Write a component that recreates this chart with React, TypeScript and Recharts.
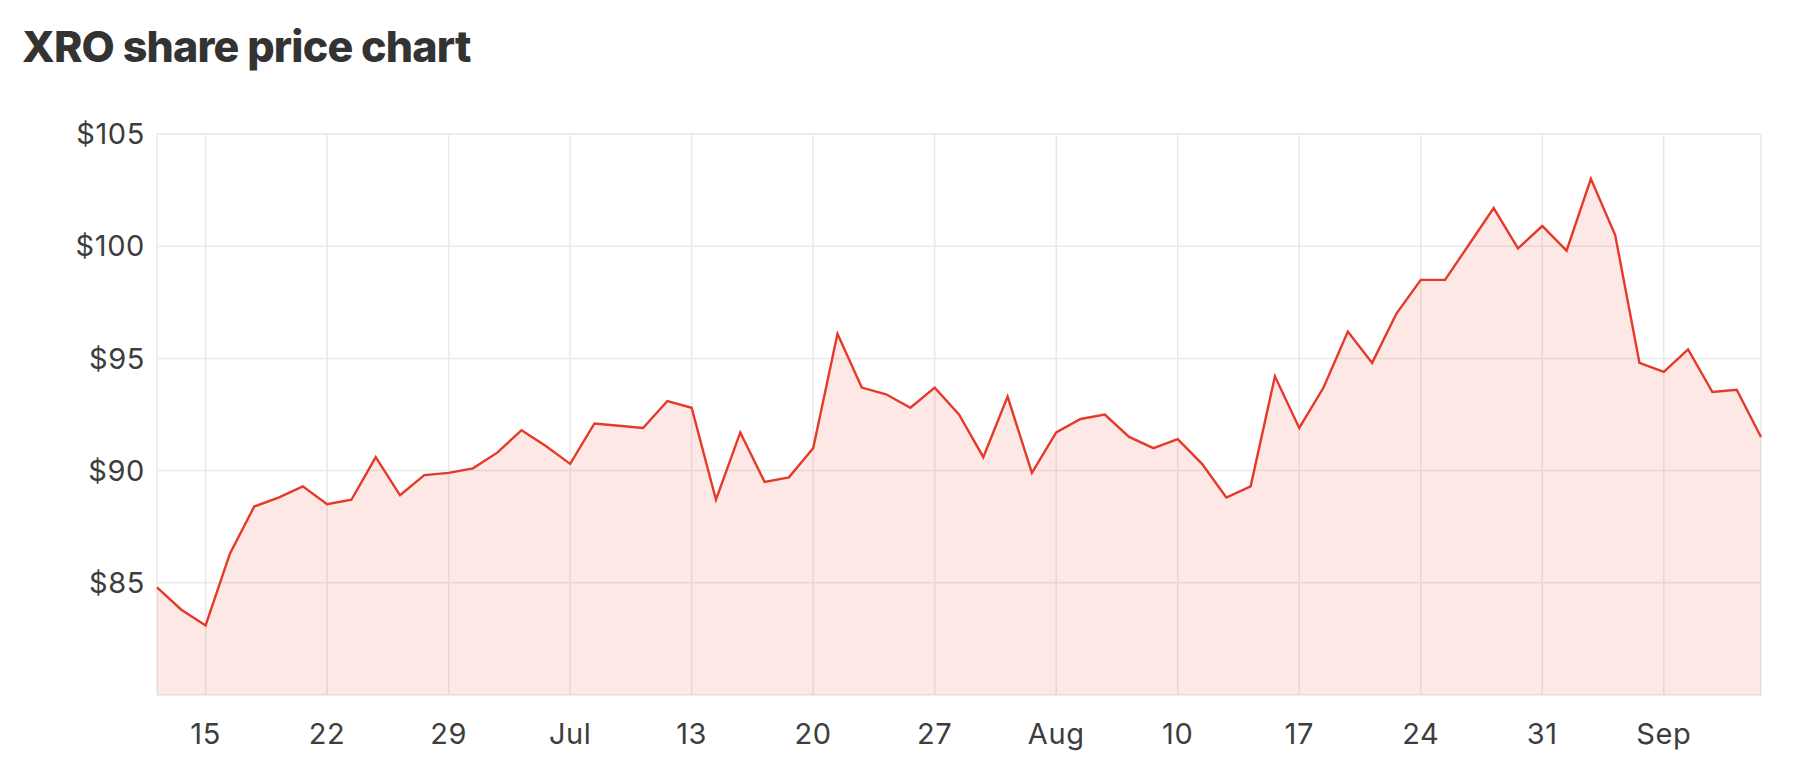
import { AreaChart, Area, XAxis, YAxis, CartesianGrid } from "recharts";

// ASX trading days, 11 Jun – 11 Sep 2020
const dates = [
  "2020-06-11", "2020-06-12",
  "2020-06-15", "2020-06-16", "2020-06-17", "2020-06-18", "2020-06-19",
  "2020-06-22", "2020-06-23", "2020-06-24", "2020-06-25", "2020-06-26",
  "2020-06-29", "2020-06-30", "2020-07-01", "2020-07-02", "2020-07-03",
  "2020-07-06", "2020-07-07", "2020-07-08", "2020-07-09", "2020-07-10",
  "2020-07-13", "2020-07-14", "2020-07-15", "2020-07-16", "2020-07-17",
  "2020-07-20", "2020-07-21", "2020-07-22", "2020-07-23", "2020-07-24",
  "2020-07-27", "2020-07-28", "2020-07-29", "2020-07-30", "2020-07-31",
  "2020-08-03", "2020-08-04", "2020-08-05", "2020-08-06", "2020-08-07",
  "2020-08-10", "2020-08-11", "2020-08-12", "2020-08-13", "2020-08-14",
  "2020-08-17", "2020-08-18", "2020-08-19", "2020-08-20", "2020-08-21",
  "2020-08-24", "2020-08-25", "2020-08-26", "2020-08-27", "2020-08-28",
  "2020-08-31", "2020-09-01", "2020-09-02", "2020-09-03", "2020-09-04",
  "2020-09-07", "2020-09-08", "2020-09-09", "2020-09-10", "2020-09-11",
];

const prices = [
  84.8, 83.8,
  83.1, 86.3, 88.4, 88.8, 89.3,
  88.5, 88.7, 90.6, 88.9, 89.8,
  89.9, 90.1, 90.8, 91.8, 91.1,
  90.3, 92.1, 92.0, 91.9, 93.1,
  92.8, 88.7, 91.7, 89.5, 89.7,
  91.0, 96.1, 93.7, 93.4, 92.8,
  93.7, 92.5, 90.6, 93.3, 89.9,
  91.7, 92.3, 92.5, 91.5, 91.0,
  91.4, 90.3, 88.8, 89.3, 94.2,
  91.9, 93.7, 96.2, 94.8, 97.0,
  98.5, 98.5, 100.1, 101.7, 99.9,
  100.9, 99.8, 103.0, 100.5, 94.8,
  94.4, 95.4, 93.5, 93.6, 91.5,
];

// x ticks: every Monday from 15 Jun, plus the two plot edges (unlabelled)
const xTicks = [0, 2, 7, 12, 17, 22, 27, 32, 37, 42, 47, 52, 57, 62, 66];
const xTickLabels = ["", "15", "22", "29", "Jul", "13", "20", "27", "Aug", "10", "17", "24", "31", "Sep", ""];
const yTicks = [80, 85, 90, 95, 100, 105];

const data = prices.map((price, i) => ({ i, date: dates[i], price }));

const font = "Inter, 'Noto Sans', sans-serif";
const tickStyle = { fill: "#3d3d3d", fontSize: 29, fontFamily: font, letterSpacing: 0.6 };

export default function App() {
  return (
    <div style={{ position: "absolute", left: 0, top: 0, width: 1800, height: 773, background: "#fff", fontFamily: font }}>
      <div
        style={{
          position: "absolute",
          left: 22,
          top: 25,
          fontSize: 43,
          lineHeight: "43px",
          fontWeight: 800,
          color: "#333",
          letterSpacing: -0.8,
        }}
      >
        XRO share price chart
      </div>
      <div style={{ position: "absolute", left: 0, top: 0 }}>
        <AreaChart width={1800} height={773} data={data} margin={{ top: 134, right: 39, bottom: 18, left: 57 }}>
          <CartesianGrid stroke="#e9e9e9" strokeWidth={1.5} />
          <XAxis
            type="number"
            dataKey="i"
            domain={[0, 66]}
            ticks={xTicks}
            interval={0}
            tickFormatter={(v) => xTickLabels[xTicks.indexOf(v)] ?? ""}
            axisLine={false}
            tickLine={false}
            tickSize={0}
            tickMargin={28}
            height={60}
            tick={tickStyle}
          />
          <YAxis
            type="number"
            domain={[80, 105]}
            ticks={yTicks}
            interval={0}
            tickFormatter={(v) => (v === 80 ? "" : `$${v}`)}
            axisLine={false}
            tickLine={false}
            tickSize={0}
            tickMargin={12}
            width={100}
            tick={tickStyle}
          />
          <Area
            type="linear"
            dataKey="price"
            stroke="#e5392a"
            strokeWidth={2.4}
            fill="#f04a36"
            fillOpacity={0.13}
            baseValue={80}
            isAnimationActive={false}
            dot={false}
            activeDot={false}
          />
        </AreaChart>
      </div>
    </div>
  );
}
